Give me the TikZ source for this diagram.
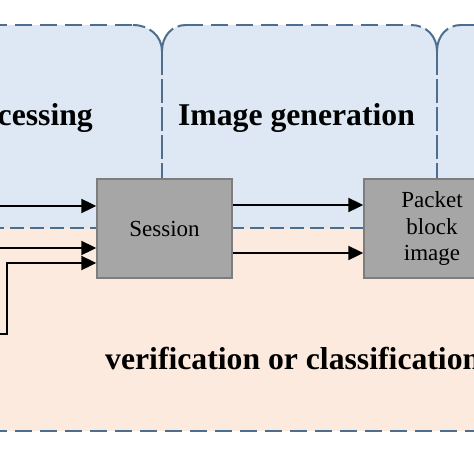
\documentclass[tikz,border=0pt]{standalone}
\usepackage{fontspec}
\setmainfont{Liberation Serif}[Ligatures=NoCommon]
\usetikzlibrary{arrows.meta}
\definecolor{bluefill}{RGB}{222,232,244}
\definecolor{peachfill}{RGB}{252,234,222}
\definecolor{dashcol}{RGB}{78,110,142}
\definecolor{boxfill}{RGB}{166,166,166}
\definecolor{boxline}{RGB}{125,125,125}
\tikzset{
  panelline/.style={draw=dashcol, line width=2pt, dash pattern=on 17pt off 8pt},
  curveline/.style={draw=dashcol, line width=2pt, dash pattern=on 26pt off 5pt},
  divline/.style={draw=dashcol, line width=1.4pt, dash pattern=on 24pt off 4pt},
  midline/.style={draw=dashcol, line width=1.3pt, dash pattern=on 14pt off 6pt},
  box/.style={draw=boxline, fill=boxfill, line width=1.5pt, inner sep=0pt,
    font=\fontsize{23}{26.5}\selectfont, align=center},
  title/.style={font=\fontsize{31.7}{36}\selectfont\bfseries, inner sep=0pt},
  arr/.style={draw=black, line width=2.4pt, -{Triangle[length=15pt,width=14pt]}},
}
\begin{document}
\begin{tikzpicture}[x=1pt,y=-1pt]
\useasboundingbox (0,0) rectangle (474,474);
\clip (0,0) rectangle (474,474);
% peach panel
\fill[peachfill] (-10,228) rectangle (484,431);
% blue panels
\fill[bluefill] (-10,228) -- (-10,25) -- (133,25) .. controls (149,25) and (162,36) .. (162,51) -- (162,228) -- cycle;
\fill[bluefill] (162,228) -- (162,51) .. controls (162,36) and (172,25) .. (186,25) -- (411,25) .. controls (426,25) and (437,36) .. (437,51) -- (437,228) -- cycle;
\fill[bluefill] (437,228) -- (437,51) .. controls (437,36) and (447,25) .. (461,25) -- (484,25) -- (484,228) -- cycle;
% panel borders
\draw[panelline] (-10,25) -- (133,25);
\draw[curveline] (162,51) .. controls (162,36) and (149,25) .. (133,25);
\draw[curveline] (162,51) .. controls (162,36) and (172,25) .. (186,25);
\draw[panelline] (186,25) -- (411,25);
\draw[curveline] (437,51) .. controls (437,36) and (426,25) .. (411,25);
\draw[curveline] (437,51) .. controls (437,36) and (447,25) .. (461,25);
\draw[panelline] (461,25) -- (484,25);
\draw[divline] (162,51) -- (162,228);
\draw[divline] (437,51) -- (437,228);
\draw[midline] (-10,228) -- (484,228);
\draw[panelline] (-10,431) -- (484,431);
% titles
\node[title, anchor=base east] (t1) at (93,125) {cessing};
\node[title, anchor=base] (t2) at (296.5,125) {Image generation};
\node[title, anchor=base west] (t3) at (105,369) {verification or classification};
% boxes
\node[box, minimum width=135pt, minimum height=99pt] (session) at (164.5,228.5) {Session};
\node[box, minimum width=136pt, minimum height=99pt] (packet) at (432,228.5) {Packet\\block\\image};
% free ends
\coordinate (in1) at (0,206);
\coordinate (in2) at (0,248);
\coordinate (in3) at (0,334);
\coordinate (in3a) at (7,334);
\coordinate (in3b) at (7,263);
% arrows
\draw[arr] (in1) -- (in1 -| session.west);
\draw[arr] (in2) -- (in2 -| session.west);
\draw[arr] (in3) -- (in3a) -- (in3b) -- (in3b -| session.west);
\coordinate (o1) at (0,205);
\coordinate (o2) at (0,253);
\draw[arr] (o1 -| session.east) -- (o1 -| packet.west);
\draw[arr] (o2 -| session.east) -- (o2 -| packet.west);
\end{tikzpicture}
\end{document}
